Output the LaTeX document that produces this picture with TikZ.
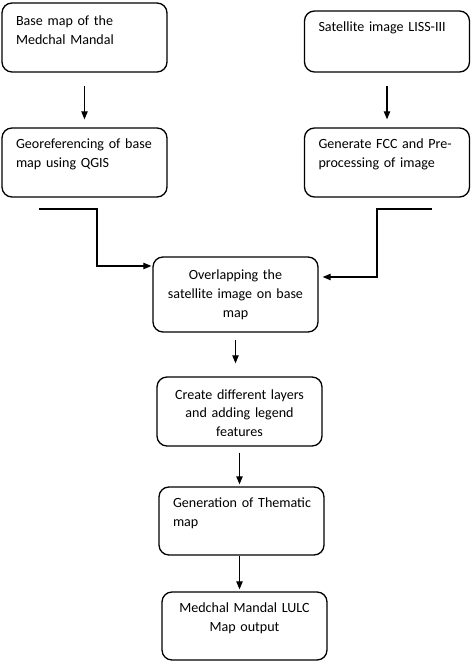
\documentclass[tikz,border=0pt]{standalone}
\usepackage{fontspec}
\setmainfont{Carlito}
\usepackage{tikz}
\usetikzlibrary{positioning}
\usetikzlibrary{arrows.meta}
\tikzset{
    mybox/.style = {rectangle, rounded corners=0.2cm, draw=black, line width=0.75pt, align=left, text width=2.9cm, inner xsep=0.2cm, inner ysep=0pt, minimum width=3.3cm, text height=6pt, font=\fontsize{8.0}{10.7}\selectfont, execute at begin node={\setlength{\leftskip}{0.08cm}}},
    myboxc/.style = {rectangle, rounded corners=0.2cm, draw=black, line width=0.75pt, align=center, text width=2.9cm, inner xsep=0.2cm, inner ysep=0pt, minimum width=3.3cm, text height=6pt, font=\fontsize{8.0}{10.7}\selectfont},
}

\begin{document}
\begin{tikzpicture}[
	font=\fontsize{8.0}{10.7}\selectfont
]
\tikzset{
    edgea/.style = {-{Triangle[length=4.5pt,width=3.6pt]}, line width=0.6pt},
}
\useasboundingbox (0,0) rectangle (9.48,13.26);
\node[mybox, minimum height=1.38cm, text depth=19.1pt] at (1.69,12.51) (a) {Base map of the\\Medchal Mandal};
\node[mybox, minimum height=1.38cm, text depth=21.4pt] at (1.69,10.01) (b) {Georeferencing of base\\map using QGIS};
\node[mybox, minimum height=1.22cm, text depth=16.8pt] at (7.74,12.43) (c) {Satellite image LISS-III};
\node[mybox, minimum height=1.38cm, text depth=21.4pt] at (7.74,10.01) (d) {Generate FCC and Pre-\\processing of image};
\node[myboxc, minimum height=1.50cm, text depth=22.5pt] at (4.71,7.37) (e) {Overlapping the\\satellite image on base\\map};
\node[myboxc, minimum height=1.38cm, text depth=20.2pt] at (4.79,5.03) (f) {Create different layers\\and adding legend\\features};
\node[mybox, minimum height=1.36cm, text depth=20.8pt] at (4.83,2.84) (g) {Generation of Thematic\\map};
\node[myboxc, minimum height=1.36cm, text depth=20.8pt] at (4.89,0.74) (h) {Medchal Mandal LULC\\Map output};
%
\draw[edgea, shorten <=0.26cm, shorten >=0.16cm] (a) -- (b);
\draw[edgea, shorten <=0.26cm, shorten >=0.16cm] (c) -- (d);
%
\coordinate (l) at (0.78,9.08);
\coordinate (r) at (8.64,9.08);
\draw[edgea, shorten >=0.02cm] (l) -- ++(1.16,0) |- ([yshift=0.57cm]e.west);
\draw[edgea, shorten >=0.08cm] (r) -- ++(-1.10,0) |- ([yshift=0.35cm]e.east);
%
\draw[edgea, shorten <=0.14cm, shorten >=0.26cm] (e.south) -- (e.south |- f.north);
\draw[edgea, shorten <=0.12cm, shorten >=0.04cm] (f.south) -- (f.south |- g.north);
\draw[edgea, shorten >=0.04cm] (f.south |- g.south) -- (f.south |- h.north);
\end{tikzpicture}
\end{document}
